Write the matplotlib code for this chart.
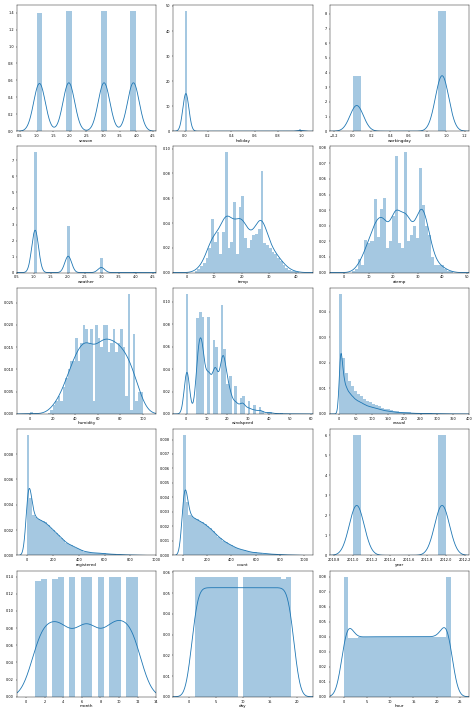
import numpy as np
import matplotlib
matplotlib.use("Agg")
import matplotlib.pyplot as plt

names = ["season", "holiday", "workingday", "weather", "temp", "atemp",
         "humidity", "windspeed", "casual", "registered", "count", "year",
         "month", "day", "hour"]

season_range = (1, 4)
season_h = [1.40, 0, 0, 0, 0, 1.42, 0, 0, 0, 0, 0, 1.42, 0, 0, 0, 0, 1.42]
holiday_range = (0, 1)
holiday_h = [48] + [0] * 48 + [1.0]
workingday_range = (0, 1)
workingday_h = [3.8] + [0] * 10 + [8.2]
weather_range = (1, 4)
weather_h = [7.5] + [0] * 10 + [2.9] + [0] * 10 + [0.9] + [0] * 10 + [0.01]
temp_range = (0.82, 41.0)
temp_h = [0, 0, 0.001, 0.003, 0.005, 0.008, 0.012, 0.02, 0.043, 0.025, 0.033, 0.015,
          0.033, 0.097, 0.02, 0.025, 0.057, 0.015, 0.053, 0.062, 0.028, 0.02, 0.026,
          0.03, 0.031, 0.035, 0.082, 0.024, 0.022, 0.02, 0.017, 0.015, 0.012, 0.009,
          0.006, 0.004, 0.002, 0.001, 0.001, 0.0005]
atemp_range = (0.76, 45.5)
atemp_h = [0, 0, 0.001, 0.002, 0.009, 0.005, 0.021, 0.019, 0.02, 0.047, 0.023, 0.041,
           0.048, 0.016, 0.02, 0.036, 0.075, 0.019, 0.016, 0.077, 0.02, 0.024, 0.03,
           0.022, 0.067, 0.043, 0.03, 0.024, 0.01, 0.005, 0.005, 0.005, 0.002, 0.001,
           0.001, 0]
humidity_range = (0, 100)
humidity_h = [0.0005, 0, 0, 0, 0, 0, 0, 0.0003, 0.001, 0.002, 0.003, 0.004, 0.003,
              0.006, 0.008, 0.01, 0.012, 0.012, 0.017, 0.012, 0.016, 0.02, 0.019,
              0.016, 0.019, 0.003, 0.02, 0.017, 0.015, 0.02, 0.02, 0.014, 0.016,
              0.019, 0.014, 0.016, 0.019, 0.015, 0.004, 0.027, 0.001, 0.018, 0.003,
              0.005, 0.005]
windspeed_range = (0, 57)
windspeed_h = [0.107, 0, 0, 0, 0.085, 0.091, 0.086, 0, 0.086, 0, 0.066, 0.06, 0,
               0.097, 0.058, 0.027, 0.034, 0, 0.025, 0, 0.014, 0.016, 0, 0.012, 0,
               0.008, 0, 0.006, 0.003, 0, 0.002, 0.002, 0, 0.001, 0, 0.0005, 0,
               0.0003, 0, 0.0002, 0.0001, 0, 0, 0.0001]
casual_range = (0, 367)
casual_h = [0.047, 0.022, 0.016, 0.013, 0.011, 0.009, 0.008, 0.007, 0.006, 0.005,
            0.0045, 0.004, 0.0035, 0.003, 0.0025, 0.002, 0.0018, 0.0015, 0.0012,
            0.001, 0.0009, 0.0008, 0.0007, 0.0006, 0.0005, 0.0004, 0.0004, 0.0003,
            0.0003, 0.0002, 0.0002, 0.00015, 0.0001, 0.0001, 0.0001, 0.00008,
            0.00006, 0.00005, 0.00004, 0.00003]
registered_range = (0, 886)
registered_h = [0.0095, 0.0045, 0.0032, 0.003, 0.0029, 0.0028, 0.0027, 0.0026, 0.0024,
                0.0022, 0.002, 0.0018, 0.0016, 0.0014, 0.0012, 0.001, 0.0009, 0.0008,
                0.0007, 0.0006, 0.0005, 0.0004, 0.0003, 0.0003, 0.00025, 0.0002,
                0.0002, 0.0002, 0.00018, 0.00015, 0.00015, 0.00012, 0.0001, 0.0001,
                0.00008, 0.00007, 0.00006, 0.00005, 0.00004, 0.00004, 0.00003,
                0.00002, 0.00002, 0.00001, 0.00001]
count_range = (1, 977)
count_h = [0.0083, 0.0037, 0.0028, 0.0027, 0.0026, 0.0025, 0.0024, 0.0023, 0.0022,
           0.002, 0.0019, 0.0017, 0.0015, 0.0013, 0.0012, 0.001, 0.0009, 0.0008,
           0.0007, 0.0006, 0.0005, 0.00045, 0.0004, 0.00035, 0.0003, 0.00025,
           0.0002, 0.0002, 0.00018, 0.00015, 0.00013, 0.00012, 0.0001, 0.00009,
           0.00008, 0.00007, 0.00006, 0.00005, 0.00004, 0.00003, 0.00003, 0.00002,
           0.00002, 0.00001, 0.00001]
year_range = (2011, 2012)
year_h = [6.0] + [0] * 10 + [6.0]
month_range = (1, 12)
month_h = [0.135, 0.137, 0, 0.137, 0.139, 0, 0.14, 0, 0.14, 0.14, 0, 0.14, 0,
           0.139, 0.14, 0, 0.14, 0.14]
day_range = (1, 19)
day_h = [0.058, 0.058, 0.058, 0.058, 0.058, 0.058, 0.058, 0.058, 0, 0.058, 0.058,
         0.058, 0.058, 0.058, 0.058, 0.058, 0.057, 0.058]
# day values present in the data (equal share each), used for the day KDE
day_values = [1, 2, 3, 4, 5, 6, 7, 8, 9, 10, 11, 12, 13, 14, 15, 16, 17, 18, 19]
hour_range = (0, 23)
hour_h = [0.08, 0.039, 0.039, 0.04, 0.04, 0.04, 0.04, 0.04, 0.04, 0.04, 0.04, 0.04,
          0.04, 0.04, 0.04, 0.04, 0.04, 0.04, 0.04, 0.04, 0.04, 0.08]

ranges = [season_range, holiday_range, workingday_range, weather_range, temp_range,
          atemp_range, humidity_range, windspeed_range, casual_range, registered_range,
          count_range, year_range, month_range, day_range, hour_range]
heights = [season_h, holiday_h, workingday_h, weather_h, temp_h, atemp_h, humidity_h,
           windspeed_h, casual_h, registered_h, count_h, year_h, month_h, day_h, hour_h]
bws = [0.175, 0.026, 0.072, 0.1, 2.0, 2.0, 6.0, 1.3, 5.0, 20, 22, 0.08, 1.1, 1.0, 1.2]
xlims = [(0.4, 4.6), (-0.1, 1.1), (-0.25, 1.25), (0.5, 4.6), (-5, 46), (-6, 51),
         (-12, 112), (-6, 61), (-30, 400), (-80, 1000), (-80, 1070), (2010.75, 2012.25),
         (-1, 14), (-3, 23), (-3, 27)]

fig, axes = plt.subplots(5, 3, figsize=(4.74, 7.11), dpi=100)
plt.subplots_adjust(left=0.035, right=0.99, top=0.993, bottom=0.02, wspace=0.12, hspace=0.12)
col = "#1f77b4"
for ax, name, rg, h, bw, xl in zip(axes.flat, names, ranges, heights, bws, xlims):
    h = np.array(h, dtype=float)
    n = len(h)
    edges = np.linspace(rg[0], rg[1], n + 1)
    w = edges[1] - edges[0]
    ax.bar(edges[:-1], h, width=w, align="edge", color=col, alpha=0.4, linewidth=0)
    if name == "day":
        centers = np.array(day_values, dtype=float)
        mass = np.ones(len(centers))
    else:
        centers = edges[:-1] + w / 2
        mass = h * w
    mass = mass / mass.sum()
    xs = np.linspace(xl[0], xl[1], 400)
    kde = (mass[:, None] * np.exp(-0.5 * ((xs[None, :] - centers[:, None]) / bw) ** 2)
           / (bw * np.sqrt(2 * np.pi))).sum(axis=0)
    ax.plot(xs, kde, color=col, lw=0.6)
    ax.set_xlim(xl)
    ax.set_ylim(0, max(h.max(), kde.max()) * 1.05)
    ax.set_xlabel(name, fontsize=3, labelpad=0.5)
    ax.tick_params(labelsize=2.5, length=1, width=0.3, pad=1)
    for s in ax.spines.values():
        s.set_linewidth(0.3)
fig.savefig("out.png", dpi=100)
